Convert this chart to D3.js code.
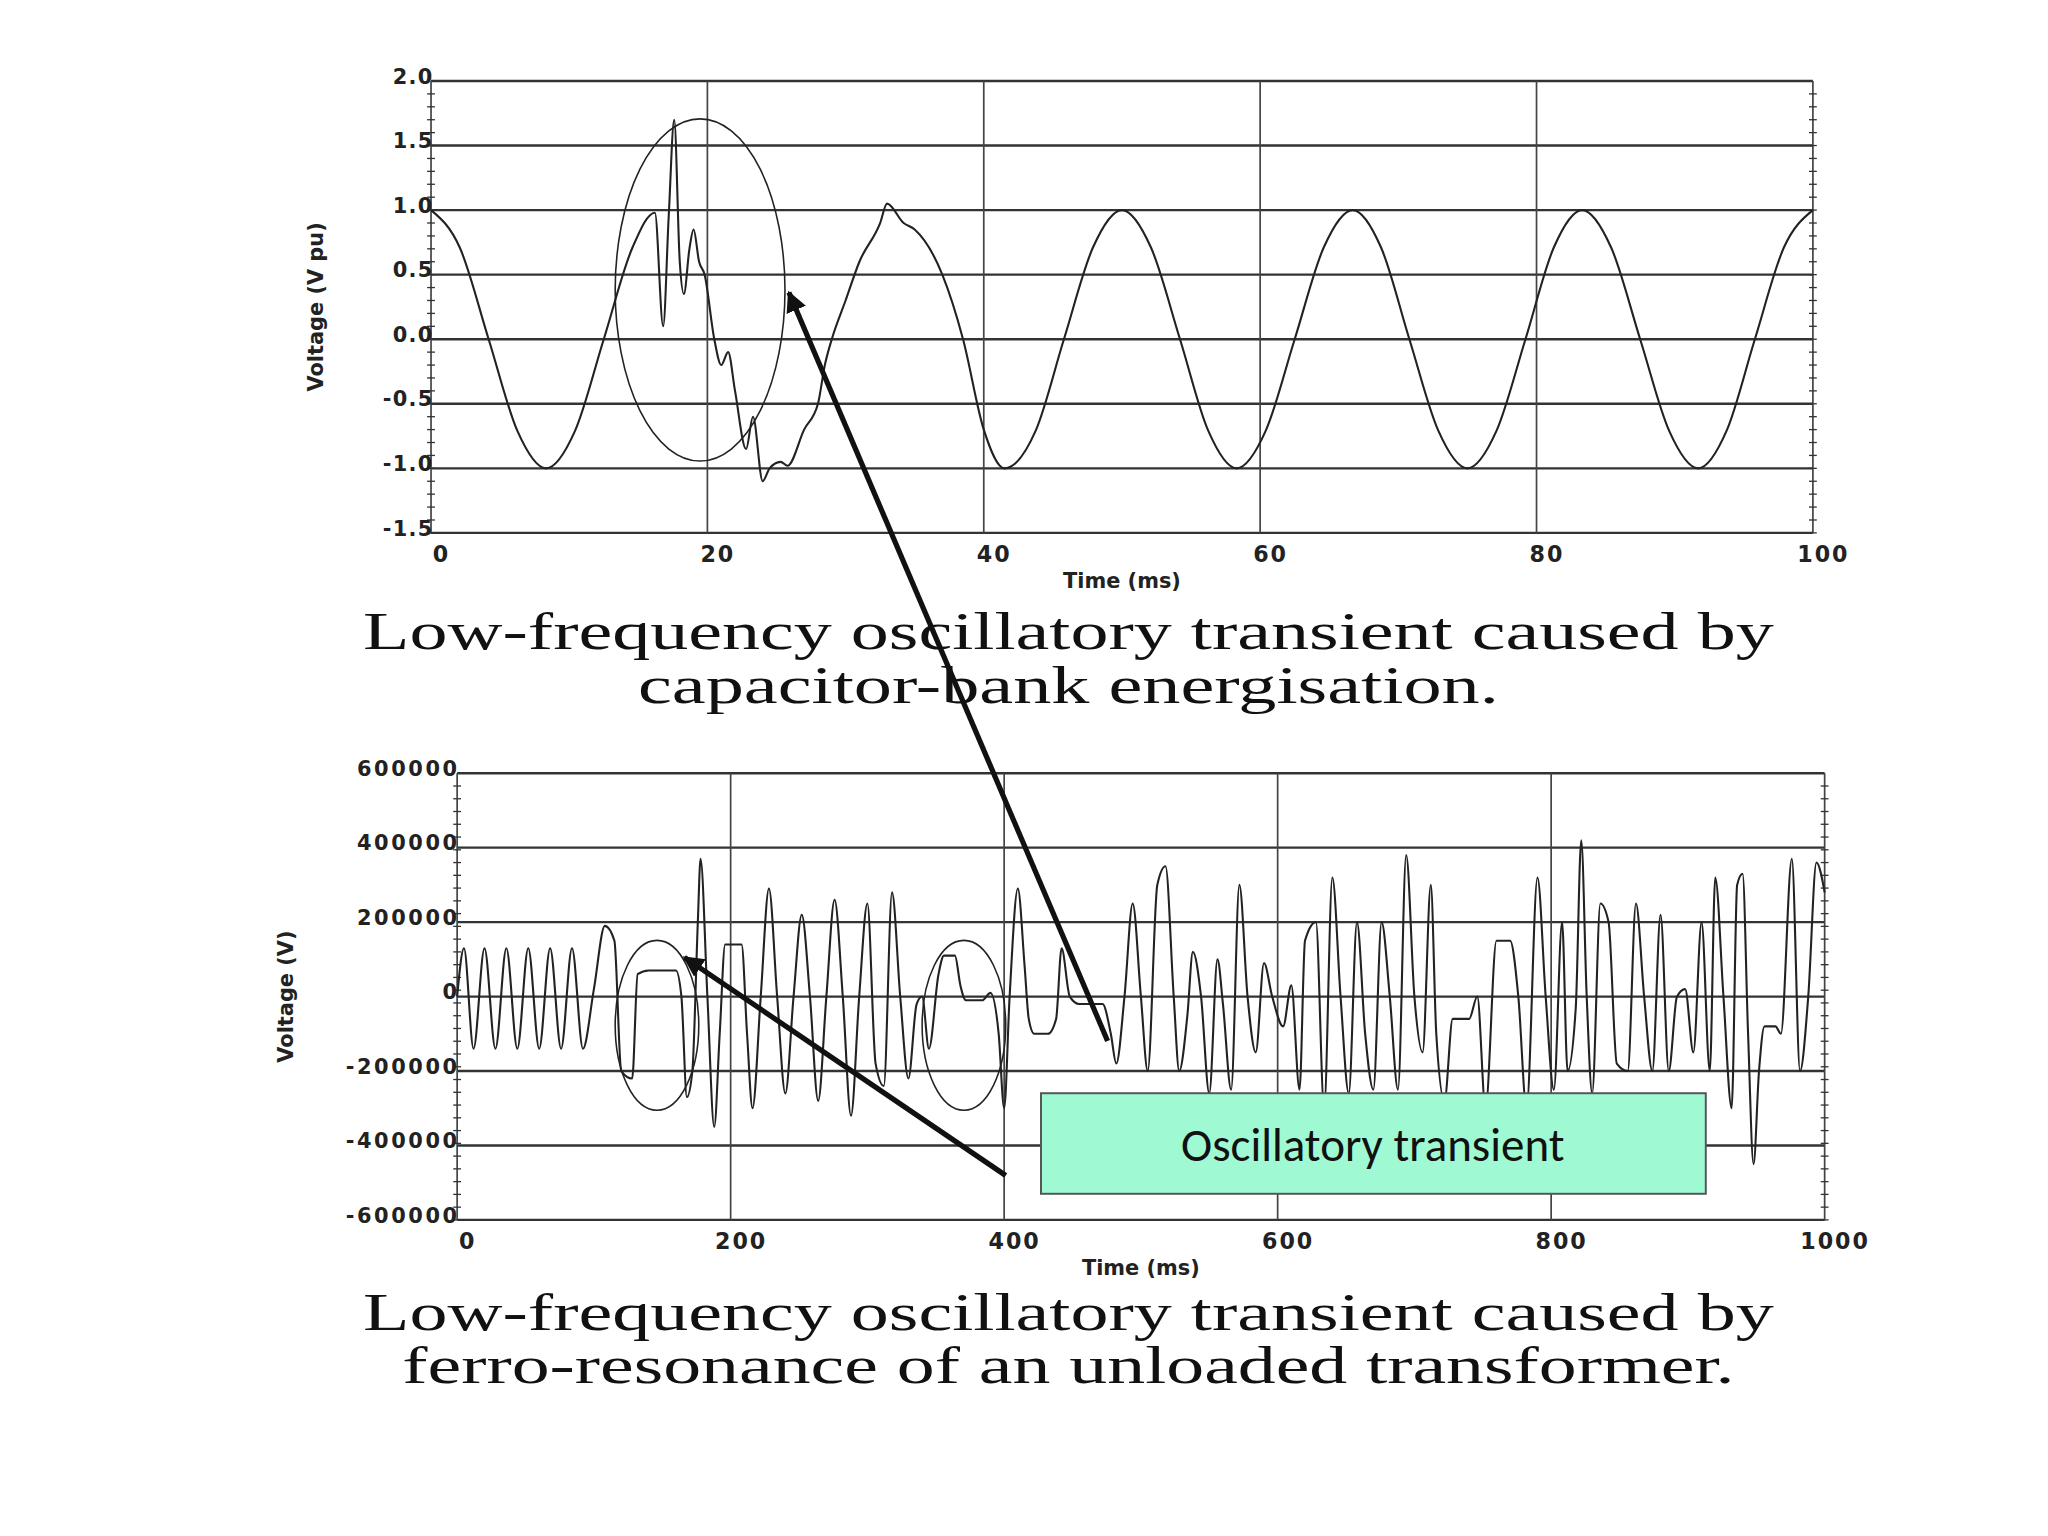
<!DOCTYPE html>
<html><head><meta charset="utf-8">
<script src="https://cdn.jsdelivr.net/npm/d3@7"></script>
<style>body{margin:0;background:#fff}</style></head>
<body><svg id="c" width="2048" height="1536" viewBox="0 0 1568 1176"></svg>
<script>
const topTime=[0,2.08,4.17,6.25,8.33,10.42,12.5,14.58,16.2,16.8,17.2,17.6,18.0,18.3,18.7,19.0,19.4,19.8,20.5,21.0,21.5,22.0,22.8,23.3,24.0,24.5,25.3,25.8,27,28,28.5,29,30,31,32.5,33,34.2,35,37,38.5,40,41.5,43.75,45.8,47.9,50,52.1,54.2,56.25,58.3,60.4,62.5,64.6,66.7,68.75,70.8,72.9,75,77.1,79.2,81.25,83.3,85.4,87.5,89.6,91.7,93.75,95.8,97.9,100];
const topVolt=[1,0.71,0,-0.71,-1,-0.71,0,0.71,0.98,0.1,0.95,1.7,0.6,0.35,0.7,0.85,0.6,0.5,0,-0.2,-0.1,-0.4,-0.85,-0.6,-1.1,-1.0,-0.95,-0.98,-0.7,-0.5,-0.2,0,0.3,0.6,0.9,1.05,0.9,0.85,0.5,0,-0.7,-1,-0.71,0,0.71,1,0.71,0,-0.71,-1,-0.71,0,0.71,1,0.71,0,-0.71,-1,-0.71,0,0.71,1,0.71,0,-0.71,-1,-0.71,0,0.71,1];
const botTime=[0,5,12,20,28,36,44,52,60,68,76,84,92,100,108,115,120,128,132,140,160,164,168,172,176,178,183,188,192,196,208,212,216,222,228,234,240,246,252,258,264,270,276,282,288,294,300,306,312,318,324,330,336,340,345,352,356,364,368,372,384,390,396,400,404,410,415,418,422,432,438,442,448,455,472,478,482,488,494,500,505,512,518,524,528,534,538,544,550,556,560,566,572,578,584,590,596,604,610,616,620,628,634,640,646,652,658,664,670,676,682,688,694,700,706,712,716,722,728,732,740,746,752,760,770,776,782,790,796,802,808,812,818,822,826,830,836,842,848,856,862,868,874,880,886,892,898,904,910,916,920,926,932,936,940,944,948,952,956,964,968,976,982,988,994,1000];
const botKV=[0,130,-140,130,-140,130,-140,130,-140,130,-140,130,-140,20,190,150,-200,-220,60,70,70,0,-270,-200,200,370,0,-350,-100,140,140,-100,-300,0,290,0,-260,0,220,0,-280,0,260,0,-320,0,250,-180,-240,280,0,-220,-20,0,-140,60,110,110,30,-10,-10,10,-100,-300,0,290,80,-60,-100,-100,-60,130,0,-20,-20,-100,-180,0,250,0,-200,300,350,0,-200,-50,120,0,-260,100,-20,-250,300,0,-150,90,0,-80,30,-250,150,200,-300,320,0,-260,200,-100,-250,200,0,-250,380,0,-150,300,-100,-280,-60,-60,-60,0,-300,150,150,0,-300,320,0,-250,200,-200,-30,420,0,-260,250,200,-180,-200,250,0,-200,220,-200,0,20,-150,200,-200,320,0,-300,300,330,-100,-450,-200,-80,-80,-100,370,-200,0,360,280];
const topYTicks=[2.0,1.5,1.0,0.5,0.0,-0.5,-1.0,-1.5];
const topXTicks=[0,20,40,60,80,100];
const botYTicks=[600000,400000,200000,0,-200000,-400000,-600000];
const botXTicks=[0,200,400,600,800,1000];
const cap1=["Low-frequency oscillatory transient caused by","capacitor-bank energisation."];
const cap2=["Low-frequency oscillatory transient caused by","ferro-resonance of an unloaded transformer."];

const svg=d3.select("#c");
const tf="'DejaVu Sans',sans-serif";
function panel(o){
  const x=d3.scaleLinear().domain(o.xd).range([o.l,o.r]);
  const y=d3.scaleLinear().domain(o.yd).range([o.b,o.t]);
  const g=svg.append("g");
  g.selectAll(".hg").data(o.yt).join("line").attr("x1",o.l).attr("x2",o.r).attr("y1",d=>y(d)).attr("y2",d=>y(d)).attr("stroke","#333").attr("stroke-width",1.8);
  g.selectAll(".vg").data(o.xt).join("line").attr("y1",o.t).attr("y2",o.b).attr("x1",d=>x(d)).attr("x2",d=>x(d)).attr("stroke","#444").attr("stroke-width",1.3);
  const minor=d3.range(o.yd[0],o.yd[1],(o.yd[1]-o.yd[0])/35);
  g.selectAll(".mt").data(minor).join("line").attr("x1",o.l-3).attr("x2",o.l+3).attr("y1",d=>y(d)).attr("y2",d=>y(d)).attr("stroke","#333");
  g.selectAll(".mt2").data(minor).join("line").attr("x1",o.r-3).attr("x2",o.r+3).attr("y1",d=>y(d)).attr("y2",d=>y(d)).attr("stroke","#333");
  g.selectAll(".yl").data(o.yt).join("text").attr("x",o.l+2).attr("y",d=>y(d)+2).attr("text-anchor","end").attr("font-family",tf).attr("font-weight","bold").attr("font-size",16).attr("letter-spacing",o.ls).attr("fill","#222").text(o.yf);
  g.selectAll(".xl").data(o.xt).join("text").attr("x",d=>x(d)+8).attr("y",o.b+22).attr("text-anchor","middle").attr("font-family",tf).attr("font-weight","bold").attr("font-size",17).attr("letter-spacing",1.5).attr("fill","#222").text(d=>d);
  g.append("text").attr("x",(o.l+o.r)/2).attr("y",o.b+42).attr("text-anchor","middle").attr("font-family",tf).attr("font-weight","bold").attr("font-size",16).attr("fill","#222").text("Time (ms)");
  g.append("text").attr("transform",`translate(${o.ytx},${(o.t+o.b)/2}) rotate(-90)`).attr("text-anchor","middle").attr("font-family",tf).attr("font-weight","bold").attr("font-size",16).attr("fill","#222").text(o.ytitle);
  const line=d3.line().x((d,i)=>x(o.xs[i])).y(d=>y(d)).curve(d3.curveMonotoneX);
  g.append("path").attr("d",line(o.ys)).attr("fill","none").attr("stroke","#222").attr("stroke-width",1.6);
  o.cap.forEach((c,i)=>g.append("text").attr("x",818).attr("y",o.capY+i*41).attr("text-anchor","middle").attr("font-family","'Liberation Serif',serif").attr("font-size",40).attr("textLength",o.capW[i]).attr("lengthAdjust","spacingAndGlyphs").attr("fill","#111").text(c));
}
panel({xd:[0,100],yd:[-1.5,2.0],l:330,r:1388,t:62,b:408,xs:topTime,ys:topVolt,yt:topYTicks,xt:topXTicks,yf:d=>d.toFixed(1),ls:1,ytitle:"Voltage (V pu)",ytx:247,cap:cap1,capW:[1080,659],capY:497});
panel({xd:[0,1000],yd:[-600,600],l:350,r:1397,t:592,b:934,xs:botTime,ys:botKV,yt:botYTicks.map(v=>v/1000),xt:botXTicks,yf:d=>String(d*1000),ls:2,ytitle:"Voltage (V)",ytx:224,cap:cap2,capW:[1080,1020],capY:1018});

svg.append("defs").append("marker").attr("id","ah").attr("viewBox","0 0 10 10").attr("refX",9).attr("refY",5).attr("markerWidth",4).attr("markerHeight",4).attr("orient","auto").append("path").attr("d","M0,0L10,5L0,10z").attr("fill","#111");
[[536,222,65,131],[503,785,32,65],[738,785,32,65]].forEach(e=>svg.append("ellipse").attr("cx",e[0]).attr("cy",e[1]).attr("rx",e[2]).attr("ry",e[3]).attr("fill","none").attr("stroke","#222").attr("stroke-width",1.2));
[[848,797,604,224],[770,900,524,733]].forEach(a=>svg.append("line").attr("x1",a[0]).attr("y1",a[1]).attr("x2",a[2]).attr("y2",a[3]).attr("stroke","#111").attr("stroke-width",4).attr("marker-end","url(#ah)"));
svg.append("rect").attr("x",797).attr("y",837).attr("width",509).attr("height",77).attr("fill","#9ff9d2").attr("stroke","#555").attr("stroke-width",1.5);
svg.append("text").attr("x",1051).attr("y",889).attr("text-anchor","middle").attr("font-family","Carlito,'Open Sans',sans-serif").attr("font-size",36).attr("fill","#111").text("Oscillatory transient");
</script></body></html>
